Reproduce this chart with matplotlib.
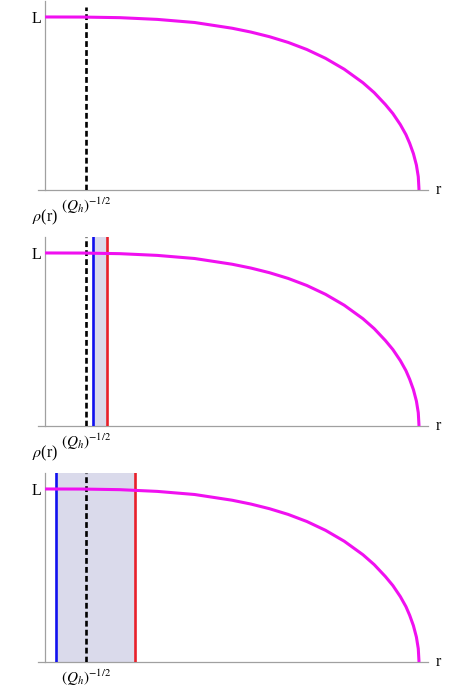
import matplotlib
matplotlib.use("Agg")
import matplotlib.pyplot as plt

plt.rcParams['font.family'] = ['Liberation Serif', 'DejaVu Serif']
plt.rcParams['mathtext.fontset'] = 'stix'

# density profile rho(r), r in units of the edge radius, rho in units of L
r_vals = [0.0, 0.1, 0.2, 0.3, 0.4, 0.5, 0.55, 0.6, 0.65, 0.7, 0.75, 0.8,
          0.85, 0.88, 0.91, 0.93, 0.95, 0.965, 0.975, 0.985, 0.993, 0.998, 1.0]
rho_vals = [1.0, 0.9995, 0.996, 0.986, 0.968, 0.935, 0.913, 0.886, 0.853,
            0.812, 0.761, 0.698, 0.620, 0.563, 0.494, 0.442, 0.378, 0.320,
            0.270, 0.210, 0.144, 0.077, 0.0]

q_pos = 0.110                 # position of (Q_h)^{-1/2}
blue_pos = [None, 0.128, 0.029]
red_pos = [None, 0.166, 0.241]

x_tick_label = r'$(Q_h)^{-1/2}$'
y_tick_label = 'L'

W, H = 474, 689
fig = plt.figure(figsize=(W / 100, H / 100), dpi=100)

bottoms_px = [190, 426, 662]   # pixel row of x-axis
left_px, right_px = 38, 428
height_px = 188.6
xlim = (-0.019, 1.024)
ylim = (0.0, 1.09)

for i in range(3):
    b = bottoms_px[i]
    ax = fig.add_axes([left_px / W, (H - b) / H, (right_px - left_px) / W, height_px / H])
    ax.set_xlim(*xlim)
    ax.set_ylim(*ylim)
    for s in ['top', 'right']:
        ax.spines[s].set_visible(False)
    ax.spines['left'].set_position(('data', 0))
    ax.spines['bottom'].set_position(('data', 0))
    for s in ['left', 'bottom']:
        ax.spines[s].set_color('#a0a0a0')
        ax.spines[s].set_linewidth(0.9)

    if blue_pos[i] is not None:
        ax.axvspan(blue_pos[i], red_pos[i], color='#dadaeb', lw=0, zorder=1)
        ax.axvline(blue_pos[i], color='#1010ee', lw=1.9, zorder=3)
        ax.axvline(red_pos[i], color='#e8202a', lw=1.9, zorder=3)
    ax.axvline(q_pos, color='black', lw=1.9, ls=(0, (2.2, 1.2)), zorder=4,
               ymax=0.97 if i == 0 else 1.0)
    ax.plot(r_vals, rho_vals, color='#f010f0', lw=2.2, zorder=5,
            solid_capstyle='butt', solid_joinstyle='round')

    ax.set_xticks([q_pos])
    ax.set_xticklabels([x_tick_label], fontsize=11)
    ax.set_yticks([1.0])
    ax.set_yticklabels([y_tick_label], fontsize=11.5)
    ax.tick_params(axis='x', length=0, pad=4)
    ax.tick_params(axis='y', length=0, pad=3)

    ax.annotate('r', xy=(1, 0), xycoords=('axes fraction', 'data'),
                xytext=(8, 0), textcoords='offset pixels',
                ha='left', va='center', fontsize=11.5, annotation_clip=False)
    if i > 0:
        ax.annotate(r'$\rho$(r)', xy=(0, 1), xycoords=('data', 'axes fraction'),
                    xytext=(0, 10), textcoords='offset pixels',
                    ha='center', va='bottom', fontsize=11.5, annotation_clip=False)

fig.savefig('out.png', dpi=100)
